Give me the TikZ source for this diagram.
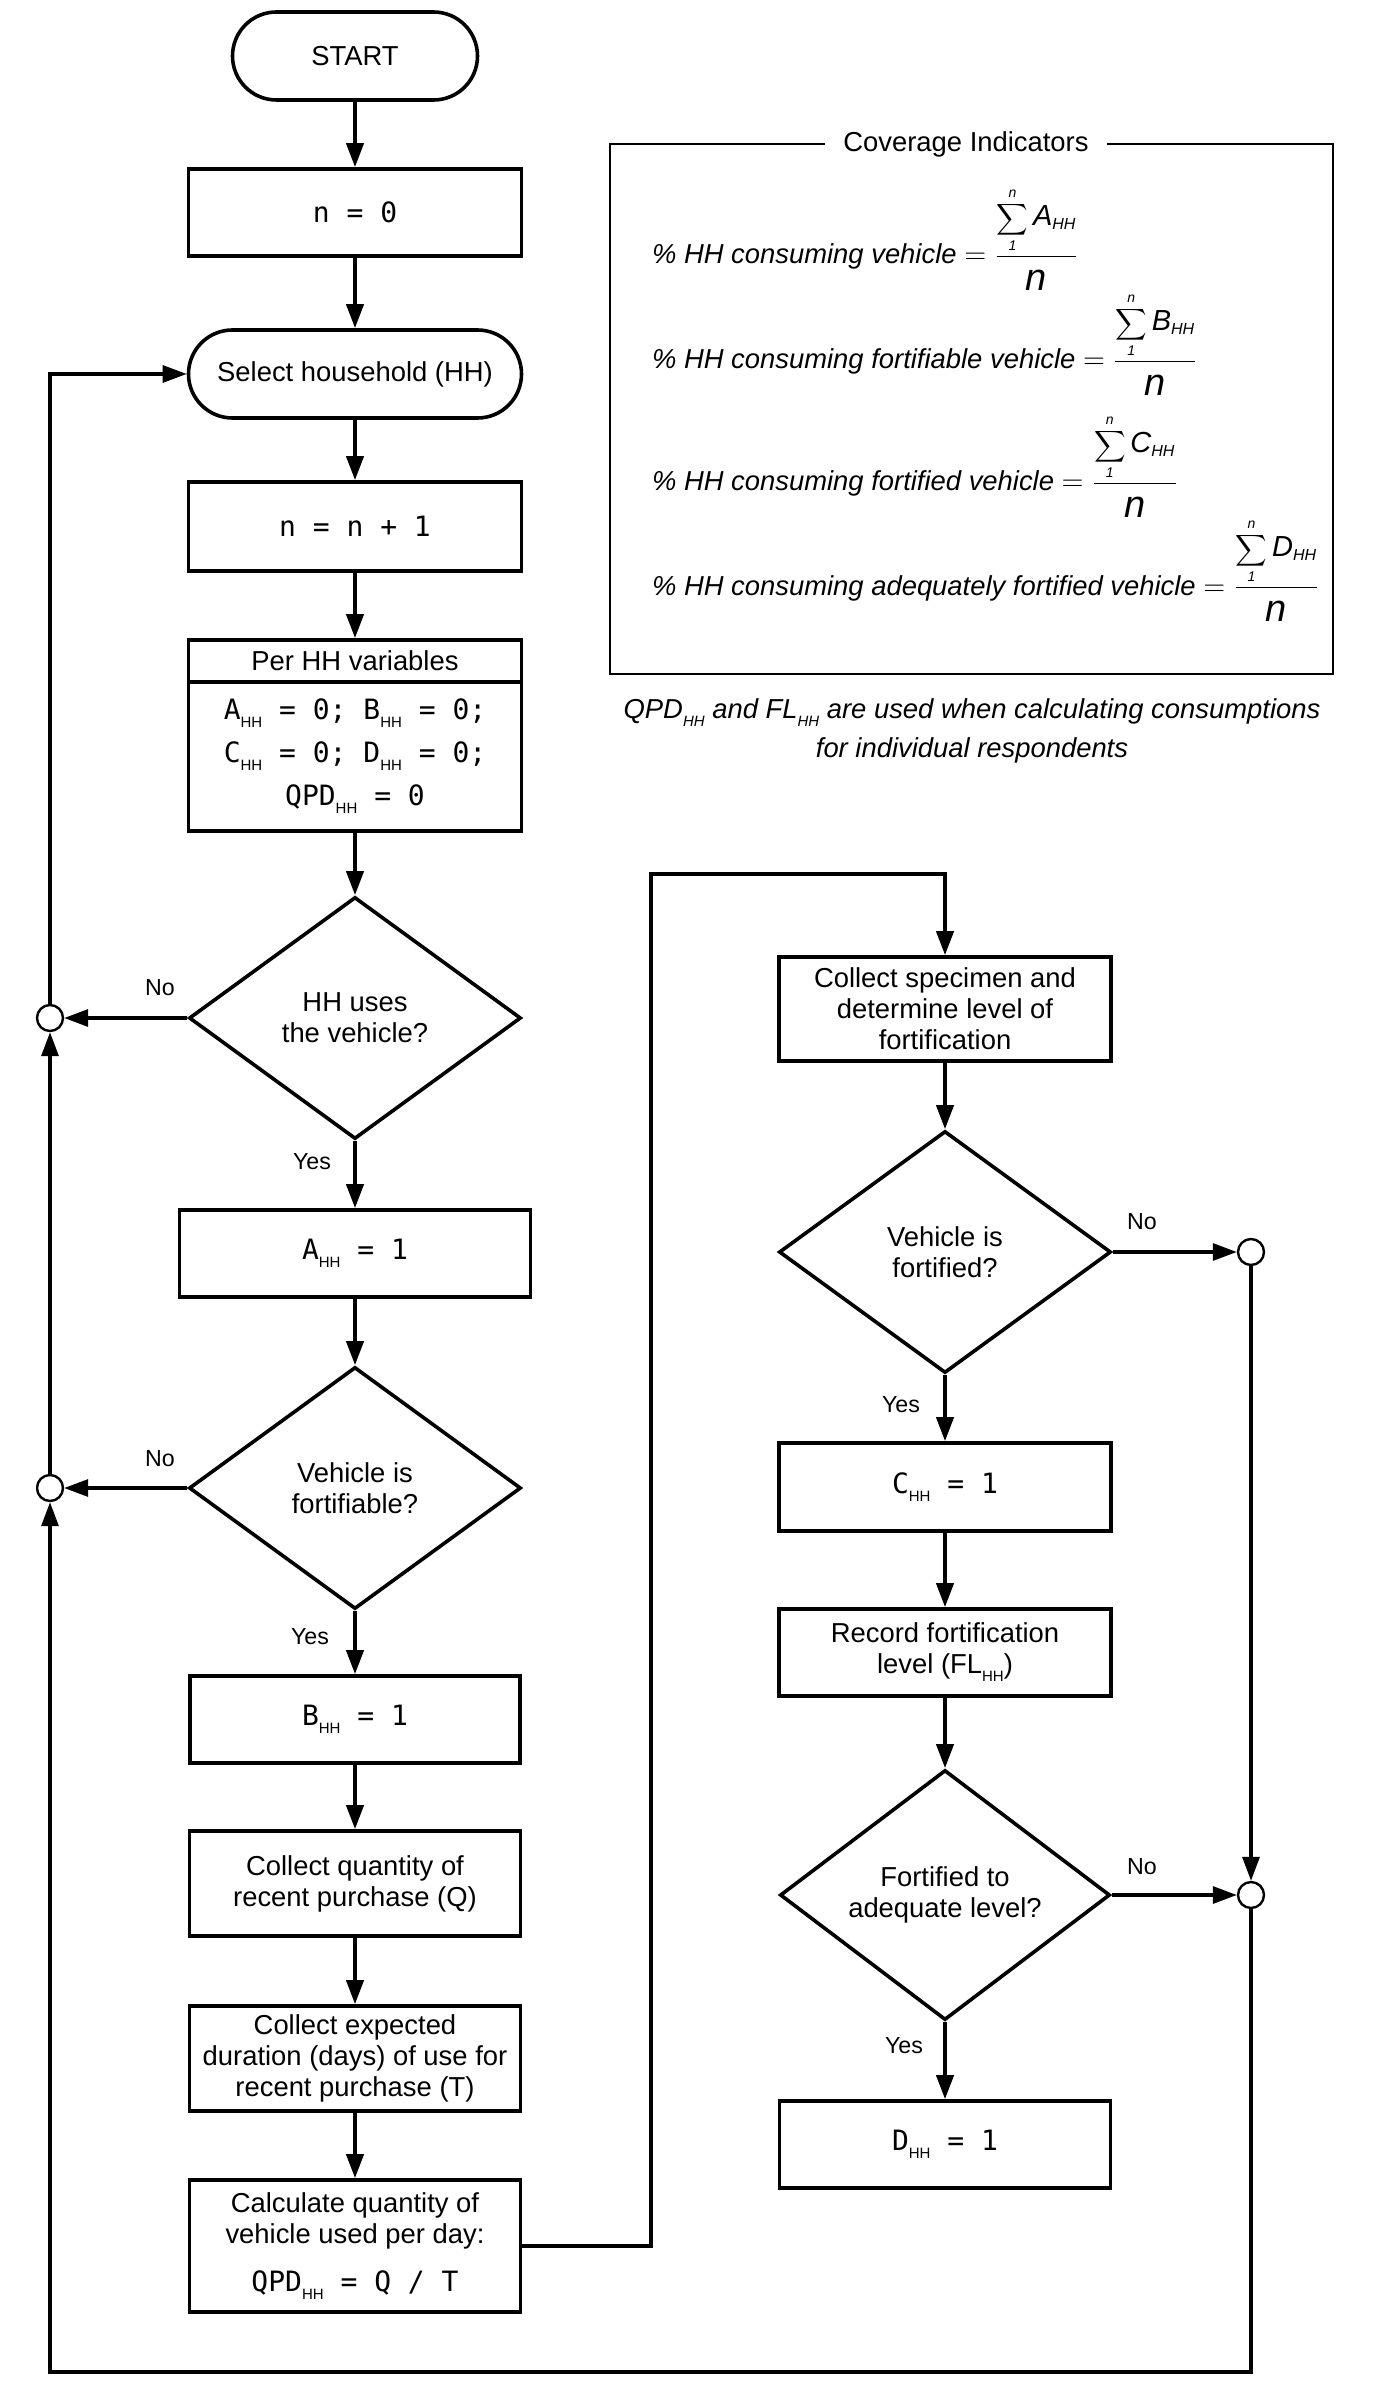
\documentclass[tikz,border=0pt]{standalone}
\usepackage{amsmath}
\usepackage{fontspec}
\setmainfont{Liberation Sans}
\newfontfamily\monofont{DejaVu Sans Mono}
\usetikzlibrary{arrows.meta,shapes.geometric}

\newcommand{\fs}{\fontsize{13.7}{15.5}\selectfont}
\newcommand{\fsmono}{\monofont\fontsize{14}{21.5}\selectfont}
\newcommand{\hh}{\raisebox{-4pt}{\fontsize{7.5}{7.5}\selectfont\rmfamily HH}}
\newcommand{\ihh}{\raisebox{-4pt}{\fontsize{7.5}{7.5}\selectfont\itshape HH}}
\newcommand{\bigsum}{\mbox{\fontsize{11}{11}\selectfont$\displaystyle\sum_{\mbox{\fontsize{7}{7}\selectfont 1}}^{\mbox{\fontsize{7}{7}\selectfont\itshape n}}$}}
\newcommand{\covline}[2]{\%~HH #1 $\displaystyle=\frac{\bigsum\,\mbox{\fontsize{14.5}{15}\selectfont\itshape #2}_{\mbox{\fontsize{8}{8}\selectfont\itshape HH}}}{\rule{0pt}{15pt}\mbox{\fontsize{19}{19}\selectfont\itshape n}}$}

\begin{document}
\begin{tikzpicture}[x=0.5pt,y=-0.5pt,
  proc/.style={draw, line width=1.8pt, fill=white, minimum width=166.5pt, minimum height=43.5pt, inner sep=2pt, align=center, font=\fs},
  mono/.style={proc, font=\fsmono},
  term/.style={proc, rounded corners=22pt},
  dec/.style={diamond, draw, line width=1.8pt, fill=white, minimum width=166pt, minimum height=121pt, inner sep=0pt, align=center, font=\fs},
  junc/.style={circle, draw, line width=1.2pt, fill=white, minimum size=13pt, inner sep=0pt},
  flow/.style={line width=2pt, -{Triangle[length=12pt,width=8.5pt]}},
  side/.style={line width=1.6pt, -{Triangle[length=12pt,width=8.5pt]}},
  lbl/.style={font=\fontsize{11.6}{13}\selectfont}]

\useasboundingbox (0,0) rectangle (1386,2391);

% left column
\node[term, minimum width=122.5pt, minimum height=44pt] (start) at (355,56) {START};
\node[mono] (n0) at (355,212.5) {n = 0};
\node[term, minimum height=44pt] (hh) at (355,374) {Select household (HH)};
\node[mono, minimum height=44.5pt] (n1) at (355,526.5) {n = n + 1};
\node[proc, minimum height=21pt] (vh) at (355,661) {Per HH variables};
\node[mono, minimum height=74.5pt] (vb) at (355,756.5) {A\hh{} = 0; B\hh{} = 0;\\C\hh{} = 0; D\hh{} = 0;\\QPD\hh{} = 0};
\node[dec] (d1) at (355,1018) {HH uses\\the vehicle?};
\node[mono, minimum width=175.5pt] (a1) at (355,1253.5) {A\hh{} = 1};
\node[dec] (d2) at (355,1488) {Vehicle is\\fortifiable?};
\node[mono, minimum width=165pt] (b1) at (355,1719.5) {B\hh{} = 1};
\node[proc, minimum width=165.5pt, minimum height=52.5pt] (q1) at (355,1883.5) {Collect quantity of\\recent purchase (Q)};
\node[proc, minimum width=165.5pt, minimum height=52.5pt] (t1) at (355,2058.5) {Collect expected\\duration (days) of use for\\recent purchase (T)};
\node[proc, minimum width=165.5pt, minimum height=66pt] (qpd) at (355,2246) {Calculate quantity of\\vehicle used per day:\\[8.5pt]{\fsmono QPD\hh{} = Q / T}};

% right column
\node[proc, minimum width=166pt, minimum height=52pt] (sp) at (945,1009) {Collect specimen and\\determine level of\\fortification};
\node[dec] (d3) at (945,1252) {Vehicle is\\fortified?};
\node[mono, minimum width=166pt, minimum height=44pt] (c1) at (945,1487) {C\hh{} = 1};
\node[proc, minimum width=166pt] (fl) at (945,1652.5) {Record fortification\\level (FL\hh)};
\node[dec, minimum width=165pt, minimum height=120pt] (d4) at (945,1895) {Fortified to\\adequate level?};
\node[mono, minimum width=165.5pt] (dd1) at (945,2144.5) {D\hh{} = 1};

% junctions
\node[junc] (j1) at (50,1018) {};
\node[junc] (j2) at (50,1488) {};
\node[junc] (j3) at (1251,1252) {};
\node[junc] (j4) at (1251,1895) {};
\coordinate (up) at (651,874);
\coordinate (bl) at (50,2372);
\coordinate (br) at (1251,2372);

\node[lbl] (no1) at (160,988) {No};
\node[lbl] (no2) at (160,1459) {No};
\node[lbl] (no3) at (1142,1222) {No};
\node[lbl] (no4) at (1142,1867) {No};
\node[lbl] (yes1) at (312,1162) {Yes};
\node[lbl] (yes2) at (310,1637) {Yes};
\node[lbl] (yes3) at (901,1405) {Yes};
\node[lbl] (yes4) at (904,2046) {Yes};

\draw[flow] (start) -- (n0);
\draw[flow] (n0) -- (hh);
\draw[flow] (hh) -- (n1);
\draw[flow] (n1) -- (vh);
\draw[flow] (vb) -- (d1);
\draw[flow] (d1) -- (a1);
\draw[flow] (a1) -- (d2);
\draw[flow] (d2) -- (b1);
\draw[flow] (b1) -- (q1);
\draw[flow] (q1) -- (t1);
\draw[flow] (t1) -- (qpd);
\draw[flow] (qpd.east) -- (qpd.east -| up) -- (up) -- (up -| sp.north) -- (sp);
\draw[flow] (sp) -- (d3);
\draw[flow] (d3) -- (c1);
\draw[flow] (c1) -- (fl);
\draw[flow] (fl) -- (d4);
\draw[flow] (d4) -- (dd1);

\draw[side] (d1) -- (j1);
\draw[side] (d2) -- (j2);
\draw[side] (d3) -- (j3);
\draw[side] (d4) -- (j4);
\draw[side] (j3) -- (j4);
\draw[side] (j4) -- (br) -- (bl) -- (j2);
\draw[side] (j2) -- (j1);
\draw[side] (j1) |- (hh);

% coverage indicators
\draw[line width=1.4pt] (610,144) rectangle (1333,674);
\node[fill=white, inner xsep=9pt, font=\fs] (covt) at (966,144) {Coverage Indicators};
\node[anchor=base west, font=\fs\itshape] (ca) at (645,264) {\covline{consuming vehicle}{A}};
\node[anchor=base west, font=\fs\itshape] (cb) at (645,369) {\covline{consuming fortifiable vehicle}{B}};
\node[anchor=base west, font=\fs\itshape] (cc) at (645,491) {\covline{consuming fortified vehicle}{C}};
\node[anchor=base west, font=\fs\itshape] (cd) at (645,595) {\covline{consuming adequately fortified vehicle}{D}};
\node[font=\fontsize{13.7}{19.5}\selectfont\itshape, align=center] (note) at (972,731) {QPD\ihh{} and FL\ihh{} are used when calculating consumptions\\for individual respondents};

\end{tikzpicture}
\end{document}
